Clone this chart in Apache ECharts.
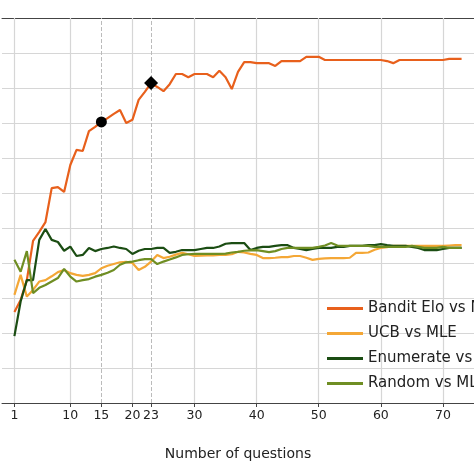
<!DOCTYPE html><html><head><meta charset="utf-8">
<script src="https://cdn.jsdelivr.net/npm/echarts@6/dist/echarts.min.js"></script>
<style>html,body{margin:0;padding:0;background:#fff}#c{width:474px;height:474px}</style></head><body><div id="c"></div>
<script>
const seriesNames=["Bandit Elo vs MLE","UCB vs MLE","Enumerate vs MLE","Random vs MLE"];
const colors=["#e8601c","#f4a736","#1b4d13","#6f8e23"];
const xTicks=[1,10,15,20,23,30,40,50,60,70];
const banditElo=[2.6,2.94,3.51,4.63,4.89,5.17,6.14,6.17,6.03,6.8,7.23,7.2,7.77,7.89,8.03,8.14,8.26,8.37,8.0,8.09,8.66,8.89,9.14,9.03,8.91,9.11,9.4,9.4,9.31,9.4,9.4,9.4,9.31,9.49,9.31,8.97,9.46,9.74,9.74,9.71,9.71,9.71,9.63,9.77,9.77,9.77,9.77,9.89,9.89,9.89,9.8,9.8,9.8,9.8,9.8,9.8,9.8,9.8,9.8,9.8,9.77,9.71,9.8,9.8,9.8,9.8,9.8,9.8,9.8,9.8,9.83,9.83,9.83];
const ucb=[3.09,3.66,3.04,3.23,3.47,3.51,3.62,3.74,3.8,3.71,3.66,3.63,3.66,3.71,3.85,3.92,3.97,4.02,4.03,4.0,3.8,3.89,4.04,4.23,4.14,4.18,4.24,4.29,4.25,4.2,4.21,4.22,4.22,4.23,4.23,4.25,4.32,4.3,4.26,4.23,4.14,4.14,4.15,4.17,4.17,4.2,4.2,4.15,4.09,4.12,4.13,4.14,4.14,4.14,4.15,4.29,4.29,4.3,4.38,4.43,4.45,4.49,4.49,4.49,4.49,4.49,4.49,4.49,4.49,4.49,4.5,4.51,4.51];
const enumerate=[1.91,2.9,3.51,3.51,4.66,4.97,4.66,4.6,4.35,4.47,4.2,4.23,4.43,4.34,4.4,4.43,4.47,4.43,4.4,4.26,4.35,4.4,4.4,4.43,4.43,4.29,4.32,4.37,4.37,4.37,4.4,4.43,4.43,4.47,4.55,4.57,4.57,4.57,4.37,4.43,4.46,4.46,4.49,4.51,4.51,4.43,4.4,4.37,4.4,4.43,4.43,4.43,4.46,4.46,4.49,4.49,4.49,4.51,4.51,4.54,4.51,4.49,4.49,4.49,4.46,4.43,4.37,4.37,4.37,4.4,4.43,4.43,4.43];
const random=[4.09,3.75,4.34,3.14,3.29,3.37,3.47,3.57,3.83,3.61,3.47,3.51,3.54,3.61,3.66,3.72,3.8,3.95,4.02,4.04,4.08,4.11,4.11,3.97,4.04,4.1,4.16,4.23,4.25,4.26,4.26,4.26,4.26,4.26,4.27,4.3,4.32,4.35,4.36,4.37,4.34,4.31,4.34,4.4,4.43,4.43,4.43,4.43,4.43,4.46,4.5,4.57,4.5,4.49,4.49,4.49,4.49,4.49,4.46,4.46,4.46,4.46,4.46,4.46,4.49,4.46,4.43,4.43,4.43,4.46,4.43,4.43,4.43];
const markers=[{x:15,symbol:"circle",size:11},{x:23,symbol:"diamond",size:14}];
const all=[banditElo,ucb,enumerate,random];
const ch=echarts.init(document.getElementById('c'));
const gridLines=[1,10,20,30,40,50,60,70].map(v=>({xAxis:v,lineStyle:{type:'solid',color:'#d6d6d6',width:1.2}}))
 .concat([15,23].map(v=>({xAxis:v,lineStyle:{type:'dashed',color:'#bbbbbb',width:1}})));
const series=all.map((arr,k)=>({name:seriesNames[k],type:'line',data:arr.map((v,i)=>[i+1,v]),showSymbol:false,symbol:'none',
 lineStyle:{color:colors[k],width:2.2},itemStyle:{color:colors[k]},
 markLine:k===0?{silent:true,symbol:'none',label:{show:false},data:gridLines,z:1}:undefined}));
series.push({type:'scatter',data:markers.map(m=>({value:[m.x,banditElo[m.x-1]],symbol:m.symbol,symbolSize:m.size})),itemStyle:{color:'#000',opacity:1},z:10});
ch.setOption({animation:false,
 grid:{left:2,top:18,width:482,height:385},
 legend:{data:seriesNames.map(n=>({name:n,icon:'rect'})),orient:'vertical',left:322,top:296,itemWidth:36,itemHeight:3,itemGap:10,
  textStyle:{fontSize:15,color:'#222',fontFamily:'DejaVu Sans'}},
 xAxis:[{type:'value',min:-1,max:75,name:'Number of questions',nameLocation:'middle',nameGap:44,
  nameTextStyle:{fontSize:14,color:'#222',fontFamily:'DejaVu Sans'},
  axisLine:{lineStyle:{color:'#444'}},splitLine:{show:false},
  axisTick:{customValues:xTicks,length:4,lineStyle:{color:'#444'}},
  axisLabel:{customValues:xTicks,fontSize:12.5,color:'#222',fontFamily:'DejaVu Sans',margin:6}},
  {type:'value',position:'top',min:-1,max:75,axisLine:{show:true,lineStyle:{color:'#444'}},axisTick:{show:false},axisLabel:{show:false},splitLine:{show:false}}],
 yAxis:{type:'value',min:0,max:11,interval:1,axisLabel:{show:false},axisTick:{show:false},axisLine:{show:false},
  splitLine:{lineStyle:{color:'#d6d6d6',width:1.2}}},
 series});
</script></body></html>
